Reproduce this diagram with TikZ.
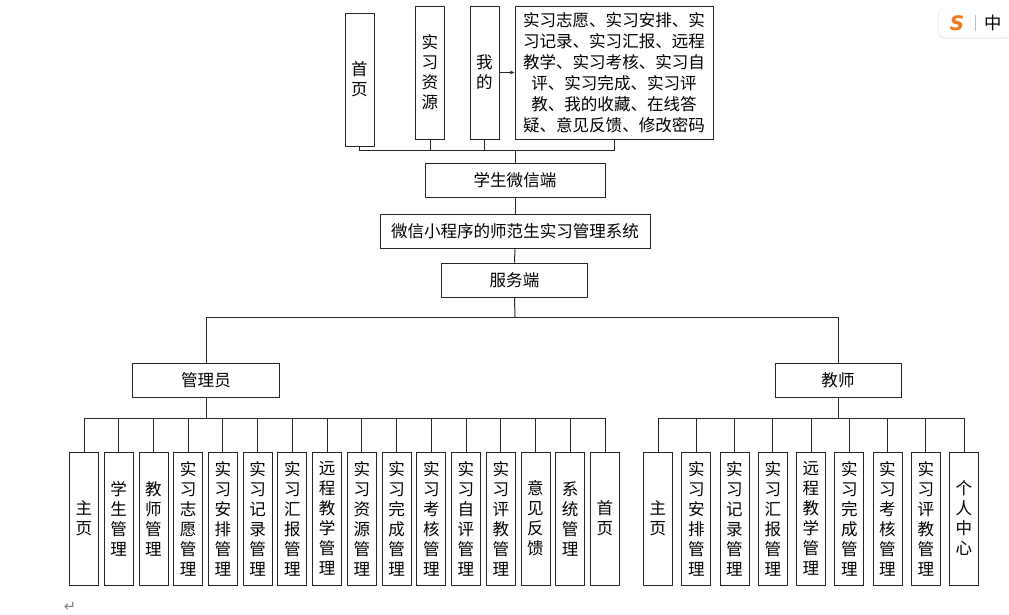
\documentclass[tikz,border=0pt]{standalone}
\usepackage{fontspec}
\setmainfont{Noto Sans CJK SC}
\newfontfamily\symfont{DejaVu Sans}
\usetikzlibrary{arrows.meta}
\definecolor{imeorange}{RGB}{240,120,30}

\begin{document}
\begin{tikzpicture}[x=0.75pt, y=-0.75pt, line width=0.75pt, color=black!85,
    every node/.style={draw, inner sep=0pt, align=center, text=black, font=\fontsize{12.4}{15}\selectfont},
    headbox/.style={minimum height=25.5pt},
    leafbox/.style={minimum width=21.75pt, minimum height=99.75pt},
    plain/.style={draw=none}]
            \useasboundingbox (0,0) rectangle (1009,614);

            % Student side
            \node (home) at (359.5,79.5) [leafbox] {首\\页};
            \node (res) at (430,72.5) [leafbox] {实\\习\\资\\源};
            \node (mine) at (484.5,72.5) [leafbox] {我\\的};
            \node (funcs) at (614,72.5) [minimum width=148.5pt, minimum height=99.75pt, font=\fontsize{12.4}{15.7}\selectfont] {实习志愿、实习安排、实\\习记录、实习汇报、远程\\教学、实习考核、实习自\\评、实习完成、实习评\\教、我的收藏、在线答\\疑、意见反馈、修改密码};
            \node (wechat) at (515,180) [headbox, minimum width=135pt] {学生微信端};
            \node (system) at (515,231) [headbox, minimum width=202.5pt] {微信小程序的师范生实习管理系统};
            \node (server) at (514.5,280) [headbox, minimum width=110pt] {服务端};

            % Roles
            \node (admin) at (206,380) [headbox, minimum width=110pt] {管理员};
            \node (teacher) at (838,380) [headbox, minimum width=94.5pt] {教师};

            % Admin modules
            \node (a1) at (84,518.5) [leafbox] {主\\页};
            \node (a2) at (118.7,518.5) [leafbox] {学\\生\\管\\理};
            \node (a3) at (153.5,518.5) [leafbox] {教\\师\\管\\理};
            \node (a4) at (188.2,518.5) [leafbox] {实\\习\\志\\愿\\管\\理};
            \node (a5) at (222.9,518.5) [leafbox] {实\\习\\安\\排\\管\\理};
            \node (a6) at (257.7,518.5) [leafbox] {实\\习\\记\\录\\管\\理};
            \node (a7) at (292.4,518.5) [leafbox] {实\\习\\汇\\报\\管\\理};
            \node (a8) at (327.1,518.5) [leafbox] {远\\程\\教\\学\\管\\理};
            \node (a9) at (361.8,518.5) [leafbox] {实\\习\\资\\源\\管\\理};
            \node (a10) at (396.6,518.5) [leafbox] {实\\习\\完\\成\\管\\理};
            \node (a11) at (431.3,518.5) [leafbox] {实\\习\\考\\核\\管\\理};
            \node (a12) at (466,518.5) [leafbox] {实\\习\\自\\评\\管\\理};
            \node (a13) at (500.8,518.5) [leafbox] {实\\习\\评\\教\\管\\理};
            \node (a14) at (535.5,518.5) [leafbox] {意\\见\\反\\馈};
            \node (a15) at (570.2,518.5) [leafbox] {系\\统\\管\\理};
            \node (a16) at (605,518.5) [leafbox] {首\\页};

            % Teacher modules
            \node (t1) at (658,518.5) [leafbox] {主\\页};
            \node (t2) at (696.3,518.5) [leafbox] {实\\习\\安\\排\\管\\理};
            \node (t3) at (734.5,518.5) [leafbox] {实\\习\\记\\录\\管\\理};
            \node (t4) at (772.8,518.5) [leafbox] {实\\习\\汇\\报\\管\\理};
            \node (t5) at (811,518.5) [leafbox] {远\\程\\教\\学\\管\\理};
            \node (t6) at (849.3,518.5) [leafbox] {实\\习\\完\\成\\管\\理};
            \node (t7) at (887.5,518.5) [leafbox] {实\\习\\考\\核\\管\\理};
            \node (t8) at (925.8,518.5) [leafbox] {实\\习\\评\\教\\管\\理};
            \node (t9) at (964,518.5) [leafbox] {个\\人\\中\\心};

            % Bus lines
            \coordinate (busTop) at (515,150);
            \coordinate (busRoles) at (515,317);
            \coordinate (busAdmin) at (206,418);
            \coordinate (busTeacher) at (838,418);

            % Edges
            \draw (home.south) |- (busTop);
            \draw (res.south) |- (busTop);
            \draw (mine.south) |- (busTop);
            \draw (funcs.south) |- (busTop);
            \draw (busTop) -- (wechat.north);
            \draw (wechat.south) -- (system.north);
            \draw (system.south) -- (server.north);
            \draw (server.south) -- (busRoles);
            \draw (admin.north) |- (busRoles);
            \draw (teacher.north) |- (busRoles);
            \draw[-{Stealth[length=3.5pt, width=3pt]}] (mine.east) -- (funcs.west);

            \draw (admin.south) -- (busAdmin);
            \draw (a1.north) |- (busAdmin);
            \draw (a2.north) |- (busAdmin);
            \draw (a3.north) |- (busAdmin);
            \draw (a4.north) |- (busAdmin);
            \draw (a5.north) |- (busAdmin);
            \draw (a6.north) |- (busAdmin);
            \draw (a7.north) |- (busAdmin);
            \draw (a8.north) |- (busAdmin);
            \draw (a9.north) |- (busAdmin);
            \draw (a10.north) |- (busAdmin);
            \draw (a11.north) |- (busAdmin);
            \draw (a12.north) |- (busAdmin);
            \draw (a13.north) |- (busAdmin);
            \draw (a14.north) |- (busAdmin);
            \draw (a15.north) |- (busAdmin);
            \draw (a16.north) |- (busAdmin);

            \draw (teacher.south) -- (busTeacher);
            \draw (t1.north) |- (busTeacher);
            \draw (t2.north) |- (busTeacher);
            \draw (t3.north) |- (busTeacher);
            \draw (t4.north) |- (busTeacher);
            \draw (t5.north) |- (busTeacher);
            \draw (t6.north) |- (busTeacher);
            \draw (t7.north) |- (busTeacher);
            \draw (t8.north) |- (busTeacher);
            \draw (t9.north) |- (busTeacher);

            % Input method badge and paragraph mark
            \fill[black!6, rounded corners=5pt] (938,8) rectangle (1012,39);
            \fill[white, rounded corners=5pt] (939,8) rectangle (1012,37);
            \node (logo) at (957,23) [plain, text=imeorange, font=\symfont\bfseries\itshape\fontsize{15}{15}\selectfont] {S};
            \draw[black!25] (975,15) -- (975,31);
            \node (lang) at (993,23) [plain, font=\fontsize{13}{15}\selectfont] {中};
            \node (para) at (70,607) [plain, text=black!50, font=\symfont\fontsize{11}{12}\selectfont] {↵};
        \end{tikzpicture}
\end{document}
